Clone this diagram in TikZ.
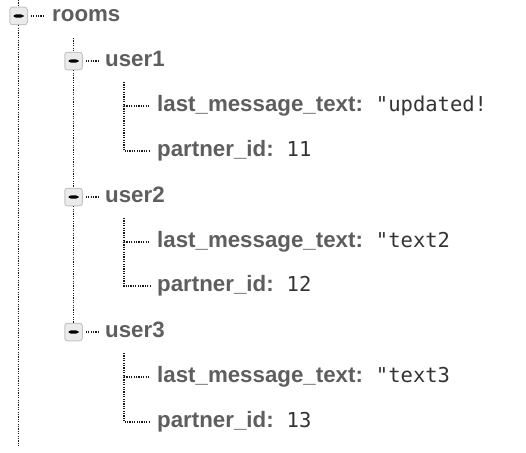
\documentclass[tikz,border=0pt]{standalone}
\usepackage{fontspec}
\setmainfont{Liberation Sans}
\newfontfamily\monofam{DejaVu Sans Mono}
\definecolor{keygray}{HTML}{5E5E5E}
\definecolor{valgray}{HTML}{333333}
\definecolor{dotgray}{HTML}{1A1A1A}
\definecolor{boxfill}{HTML}{EBEBEB}
\definecolor{boxline}{HTML}{C4C4C4}
\tikzset{
  dotline/.style={draw=dotgray, line width=1.3pt, dash pattern=on 1.2pt off 1.2pt},
  togglebox/.style={draw=boxline, fill=boxfill, line width=1pt, rounded corners=2.5pt,
    minimum width=17.5pt, minimum height=17.5pt, inner sep=0pt,
    path picture={\fill[black] ([xshift=-5pt,yshift=-1.6pt]path picture bounding box.center) rectangle ([xshift=5pt,yshift=1.6pt]path picture bounding box.center);}},
  keytext/.style={anchor=west, inner sep=0pt, text height=13.5pt, text depth=2pt,
    font=\fontsize{22.3}{26}\selectfont\bfseries, text=keygray},
}
\newcommand{\val}[1]{\hspace{13pt}{\monofam\mdseries\fontsize{20.5}{24}\selectfont\color{valgray}#1}}
\begin{document}
\begin{tikzpicture}[x=1pt,y=-1pt]
\useasboundingbox (0,0) rectangle (526,452);
% root
\coordinate (rtop) at (18.5,0);
\coordinate (rbot) at (18.5,447);
\node[togglebox] (b0) at (18.5,16) {};
\node[keytext] (t0) at (52,16) {rooms};
\draw[dotline] (rtop) -- (b0.north);
\draw[dotline] (b0.south) -- (rbot);
\draw[dotline,shorten <=3pt,shorten >=7pt] (b0.east) -- (b0.east -| t0.west);
% users
\coordinate (utop) at (73.5,38);
\node[togglebox] (b1) at (73.5,61) {};
\node[keytext] (t1) at (105,61) {user1};
\node[togglebox] (b2) at (73.5,197) {};
\node[keytext] (t2) at (105,197) {user2};
\node[togglebox] (b3) at (73.5,332) {};
\node[keytext] (t3) at (105,332) {user3};
\draw[dotline] (utop) -- (b1.north);
\draw[dotline] (b1.south) -- (b2.north);
\draw[dotline] (b2.south) -- (b3.north);
\foreach \i in {1,2,3}{
  \draw[dotline,shorten <=3pt,shorten >=7pt] (b\i.east) -- (b\i.east -| t\i.west);
}
% children
\node[keytext] (k1a) at (157,106) {last\_message\_text:\val{"updated!}};
\node[keytext] (k1b) at (157,151) {partner\_id:\val{11}};
\node[keytext] (k2a) at (157,242) {last\_message\_text:\val{"text2}};
\node[keytext] (k2b) at (157,286) {partner\_id:\val{12}};
\node[keytext] (k3a) at (157,377) {last\_message\_text:\val{"text3}};
\node[keytext] (k3b) at (157,422) {partner\_id:\val{13}};
\coordinate (j1) at (124,82);
\coordinate (j2) at (124,218);
\coordinate (j3) at (124,353);
\foreach \i in {1,2,3}{
  \draw[dotline,shorten >=7pt] (j\i) |- (k\i a.west);
  \draw[dotline,shorten >=7pt] (j\i) |- (k\i b.west);
}
\end{tikzpicture}
\end{document}
